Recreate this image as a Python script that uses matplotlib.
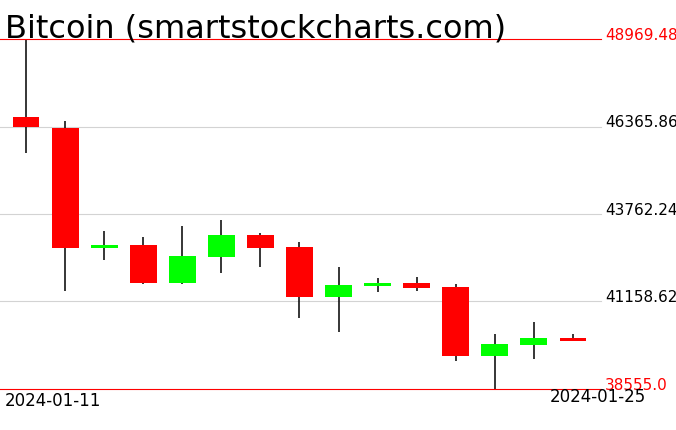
import matplotlib as mpl
import matplotlib.pyplot as plt
import matplotlib.transforms as mtransforms

mpl.rcParams.update({
    "font.family": "DejaVu Sans",
    "savefig.facecolor": "white",
})

# daily candles
dates = ["2024-01-11", "2024-01-12", "2024-01-13", "2024-01-14", "2024-01-15",
         "2024-01-16", "2024-01-17", "2024-01-18", "2024-01-19", "2024-01-20",
         "2024-01-21", "2024-01-22", "2024-01-23", "2024-01-24", "2024-01-25"]
opens = [46648, 46330, 42759, 42840, 41709, 42482, 43137, 42780,
         41301, 41620, 41709, 41590, 39546, 39873, 40072]
highs = [48969.48, 46520, 43256, 43078, 43414, 43584, 43197, 42929,
         42185, 41858, 41887, 41679, 40191, 40548, 40191]
lows = [45577, 41480, 42402, 41688, 41688, 42016, 42194, 40667,
        40260, 41450, 41471, 39388, 38555.0, 39456, 39980]
closes = [46351, 42759, 42840, 41709, 42512, 43137, 42759, 41292,
          41649, 41709, 41560, 39546, 39894, 40072, 39992]

W, H = 676, 431
fig = plt.figure(figsize=(W / 100, H / 100), dpi=100)
# plot area: x 0..601 px, y 40..390 px
ax = fig.add_axes([0, (H - 390) / H, 601 / W, 350 / H])

hi = max(highs)
lo = min(lows)
step = (hi - lo) / 4
levels = [lo + k * step for k in range(5)]

for i in range(len(dates)):
    o, h, l, c = opens[i], highs[i], lows[i], closes[i]
    col = "#00ff00" if c >= o else "#ff0000"
    top, bot = max(o, c), min(o, c)
    ax.vlines(i, top, h, color="black", lw=1.1, zorder=3, clip_on=False)
    ax.vlines(i, l, bot, color="black", lw=1.1, zorder=3, clip_on=False)
    ax.bar(i, top - bot, bottom=bot, width=0.69, color=col, zorder=2)

trans = mtransforms.blended_transform_factory(ax.transAxes, ax.transData)
for k, v in enumerate(levels):
    edge = k in (0, 4)
    col = "#ff0000" if edge else "#d3d3d3"
    ax.axhline(v, color=col, lw=0.8, zorder=4 if edge else 1, clip_on=False,
               snap=True)
    ax.text(1 + 4 / 601, v, str(round(v, 2)), transform=trans,
            color="#ff0000" if edge else "black", fontsize=11,
            va="baseline", ha="left", clip_on=False)

ax.set_xlim(-26 / 39.07, (601 - 26) / 39.07)
ax.set_ylim(lo, hi)
ax.axis("off")

fig.text(5 / W, 1 - 38 / H, "Bitcoin (smartstockcharts.com)", fontsize=23,
         va="baseline", ha="left")
fig.text(5 / W, 1 - 392 / H, dates[0], fontsize=12, va="top", ha="left")
fig.text(646 / W, 1 - 388 / H, dates[-1], fontsize=12, va="top", ha="right")

fig.savefig("out.png", dpi=100)
